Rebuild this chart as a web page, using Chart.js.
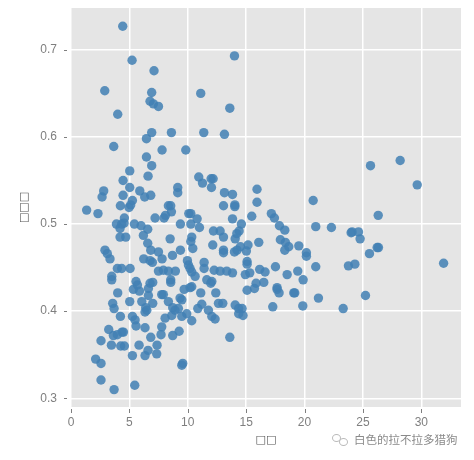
<!DOCTYPE html>
<html>
<head>
<meta charset="utf-8">
<script src="https://cdn.jsdelivr.net/npm/chart.js@4"></script>
<style>
  body { margin: 0; background: #fff; }
  .wrap { position: relative; width: 474px; height: 460px; overflow: hidden; }
  .mark { position: absolute; left: 354px; top: 431px; font: 11.5px "Noto Sans CJK SC"; color: #8a8a8a; white-space: nowrap; }
  .bubble { position: absolute; border: 1px solid #bbb; border-radius: 50%; }
</style>
</head>
<body>
<div class="wrap">
  <canvas id="myChart" width="474" height="460"></canvas>
  <div class="bubble" style="left:332px;top:434px;width:7px;height:6px"></div>
  <div class="bubble" style="left:339px;top:438px;width:7px;height:6px"></div>
  <div class="mark">白色的拉不拉多猎狗</div>
</div>
<script>
const xTitle = "□□";
const yTitle = "□□□";
const xTicks = [0, 5, 10, 15, 20, 25, 30];
const yTicks = [0.3, 0.4, 0.5, 0.6, 0.7];

// values
const xValues = [
  4.43, 5.23, 7.11, 2.89, 6.91, 11.11, 13.6, 4.0, 6.77, 7.06, 7.49, 14.0,
  6.91, 6.46, 8.6, 11.37, 13.14, 3.66, 7.8, 9.83, 6.46, 6.91, 5.03, 6.6, 4.46,
  10.94, 11.26, 12.0, 12.17, 12.03, 5.03, 5.89, 2.8, 2.66, 4.46, 6.31, 6.83,
  9.14, 9.14, 13.14, 13.83, 5.26, 4.23, 4.97, 5.11, 8.34, 8.54, 13.06, 14.03,
  14.03, 8.6, 1.34, 2.31, 8.09, 7.97, 7.2, 4.57, 10.09, 10.26, 10.8, 13.83,
  3.89, 4.34, 4.54, 5.43, 6.0, 6.57, 9.37, 10.26, 11.0, 12.2, 12.77,
  15.93, 15.93, 20.74, 15.48, 17.16, 17.42, 17.85, 18.31, 14.59, 20.96, 22.3,
  25.65, 28.19, 29.65, 26.31,
  4.2, 4.69, 6.2, 6.57, 8.49, 10.34, 10.26, 10.43, 13.06, 12.14, 13.06, 13.06,
  14.0, 14.06, 2.91, 3.11, 3.34, 6.83, 7.49, 8.69, 9.37, 6.23, 6.77, 6.97, 7.8,
  9.97, 10.06, 10.2, 10.34, 10.63, 11.4, 11.4, 3.97, 4.34, 5.06, 7.49, 7.91,
  8.34, 8.94, 12.26, 12.77, 13.34, 13.83, 3.49, 3.49, 5.57, 5.69, 5.34, 5.86,
  7.0, 6.77, 6.63, 8.54, 8.54, 11.63, 12.06, 11.97, 9.69, 10.2, 10.34, 4.0,
  6.63, 7.77, 7.91, 11.11, 12.4, 12.63, 13.0, 14.06, 3.57, 3.69, 5.03, 6.06,
  7.0, 6.4, 6.34, 6.49, 8.34, 8.71, 9.34, 9.49, 8.91, 9.2, 9.49, 9.91, 10.86,
  11.2, 11.77, 12.06, 12.34, 8.06, 8.63, 4.23, 5.26, 5.49, 5.57, 6.34, 10.34,
  7.77, 7.71, 9.26, 8.71, 3.23, 3.63, 3.97, 4.37, 4.49, 6.83, 13.6, 2.57, 3.46,
  4.26, 4.57, 5.83, 7.37, 6.6, 6.34, 5.26, 7.34, 2.11, 2.57, 9.57, 9.49, 2.57,
  3.69, 5.46, 4.2,
  16.08, 15.16, 14.51, 15.02, 14.22, 17.93, 18.36, 18.65, 18.31, 19.51, 20.16,
  20.16, 20.96, 15.08, 15.08, 17.51, 16.16, 16.62, 19.42, 18.51, 14.93, 15.31,
  19.88, 16.51, 15.85, 15.71, 15.08, 17.65, 17.65, 17.82, 19.08, 19.16, 21.19,
  17.28, 19.85, 23.31, 25.22, 14.65, 14.36, 14.73, 14.36, 23.99, 24.07, 24.62,
  24.76, 26.22, 26.33, 25.56, 23.76, 24.31, 31.91, 14.4, 14.2
];
const yValues = [
  0.727, 0.688, 0.676, 0.653, 0.651, 0.65, 0.633, 0.626, 0.641, 0.638, 0.635, 0.693,
  0.605, 0.598, 0.605, 0.605, 0.603, 0.589, 0.585, 0.585, 0.577, 0.567, 0.561, 0.555, 0.55,
  0.554, 0.547, 0.552, 0.552, 0.542, 0.542, 0.538, 0.538, 0.531, 0.533, 0.531, 0.533,
  0.542, 0.536, 0.536, 0.534, 0.527, 0.521, 0.519, 0.522, 0.521, 0.521, 0.521, 0.522,
  0.52, 0.514, 0.516, 0.512, 0.51, 0.507, 0.507, 0.507, 0.512, 0.512, 0.506, 0.506,
  0.5, 0.5, 0.501, 0.5, 0.498, 0.494, 0.5, 0.5, 0.496, 0.492, 0.492,
  0.54, 0.525, 0.527, 0.509, 0.512, 0.507, 0.498, 0.493, 0.5, 0.497, 0.496,
  0.567, 0.573, 0.545, 0.51,
  0.485, 0.485, 0.487, 0.478, 0.483, 0.485, 0.48, 0.472, 0.485, 0.476, 0.47, 0.467,
  0.468, 0.483, 0.47, 0.466, 0.46, 0.47, 0.468, 0.464, 0.47, 0.46, 0.458, 0.456, 0.46,
  0.458, 0.453, 0.449, 0.445, 0.44, 0.456, 0.449, 0.449, 0.449, 0.449, 0.446, 0.447,
  0.446, 0.446, 0.447, 0.446, 0.446, 0.444, 0.44, 0.436, 0.434, 0.43, 0.425, 0.423,
  0.433, 0.432, 0.426, 0.436, 0.433, 0.436, 0.434, 0.432, 0.425, 0.427, 0.428, 0.421,
  0.418, 0.419, 0.419, 0.421, 0.421, 0.409, 0.409, 0.407, 0.409, 0.403, 0.411, 0.411,
  0.409, 0.404, 0.399, 0.401, 0.411, 0.404, 0.415, 0.413, 0.401, 0.403, 0.394, 0.397, 0.403,
  0.408, 0.401, 0.394, 0.391, 0.392, 0.395, 0.394, 0.394, 0.39, 0.383, 0.381, 0.389,
  0.382, 0.373, 0.377, 0.372, 0.379, 0.372, 0.373, 0.376, 0.376, 0.37, 0.37, 0.366, 0.361,
  0.36, 0.36, 0.361, 0.361, 0.355, 0.349, 0.349, 0.351, 0.345, 0.34, 0.34, 0.338, 0.321,
  0.31, 0.315, 0.495,
  0.479, 0.476, 0.474, 0.469, 0.47, 0.482, 0.479, 0.474, 0.47, 0.475, 0.467,
  0.463, 0.451, 0.457, 0.454, 0.451, 0.448, 0.445, 0.446, 0.442, 0.442, 0.444,
  0.436, 0.433, 0.432, 0.426, 0.424, 0.427, 0.425, 0.421, 0.421, 0.421, 0.415,
  0.405, 0.406, 0.403, 0.418, 0.403, 0.403, 0.395, 0.397, 0.49, 0.491, 0.491,
  0.483, 0.473, 0.473, 0.466, 0.452, 0.454, 0.455, 0.492, 0.489
];

const points = xValues.map((x, i) => ({ x: x, y: yValues[i] }));

// grey panel behind the grid and the small tick marks that sit off the panel
const panelPlugin = {
  id: "panel",
  beforeDraw(chart) {
    const { ctx, chartArea } = chart;
    ctx.fillStyle = "#e5e5e5";
    ctx.fillRect(chartArea.left, chartArea.top, chartArea.width, chartArea.height);
  },
  afterDraw(chart) {
    const { ctx, chartArea, scales } = chart;
    ctx.strokeStyle = "#7f7f7f";
    ctx.lineWidth = 1;
    ctx.beginPath();
    xTicks.forEach((t) => {
      const px = Math.round(scales.x.getPixelForValue(t)) + 0.5;
      ctx.moveTo(px, chartArea.bottom + 2);
      ctx.lineTo(px, chartArea.bottom + 6);
    });
    yTicks.forEach((t) => {
      const py = Math.round(scales.y.getPixelForValue(t)) + 0.5;
      ctx.moveTo(chartArea.left - 7, py);
      ctx.lineTo(chartArea.left - 4, py);
    });
    ctx.stroke();
  },
};

const tickFont = { family: "Liberation Sans", size: 12 };
const titleFont = { family: "DejaVu Sans", size: 11 };

new Chart(document.getElementById("myChart"), {
  type: "scatter",
  data: {
    datasets: [
      {
        data: points,
        pointRadius: 4.7,
        pointHoverRadius: 4.7,
        borderWidth: 0,
        backgroundColor: "rgba(66, 128, 180, 0.85)",
      },
    ],
  },
  options: {
    responsive: false,
    animation: false,
    layout: { padding: { top: 8, right: 13 } },
    plugins: { legend: { display: false }, tooltip: { enabled: false } },
    scales: {
      x: {
        type: "linear",
        min: 0,
        max: 33.4,
        afterBuildTicks: (scale) => {
          scale.ticks = xTicks.map((v) => ({ value: v }));
        },
        afterFit: (scale) => {
          scale.height = 53;
          scale.paddingLeft = 0;
          scale.paddingRight = 0;
        },
        grid: { color: "#fff", lineWidth: 1.5, drawTicks: false },
        border: { display: false },
        ticks: { color: "#7f7f7f", font: tickFont, padding: 8, maxRotation: 0 },
        title: { display: true, text: xTitle, color: "#555", font: titleFont, padding: { bottom: 13 } },
      },
      y: {
        type: "linear",
        min: 0.29,
        max: 0.748,
        afterBuildTicks: (scale) => {
          scale.ticks = yTicks.map((v) => ({ value: v }));
        },
        afterFit: (scale) => {
          scale.width = 71;
          scale.paddingTop = 0;
          scale.paddingBottom = 0;
        },
        grid: { color: "#fff", lineWidth: 1.5, drawTicks: false },
        border: { display: false },
        ticks: { color: "#7f7f7f", font: tickFont, padding: 14, callback: (v) => v.toFixed(1) },
        title: { display: true, text: yTitle, color: "#555", font: titleFont, padding: { top: 18 } },
      },
    },
  },
  plugins: [panelPlugin],
});
</script>
</body>
</html>
